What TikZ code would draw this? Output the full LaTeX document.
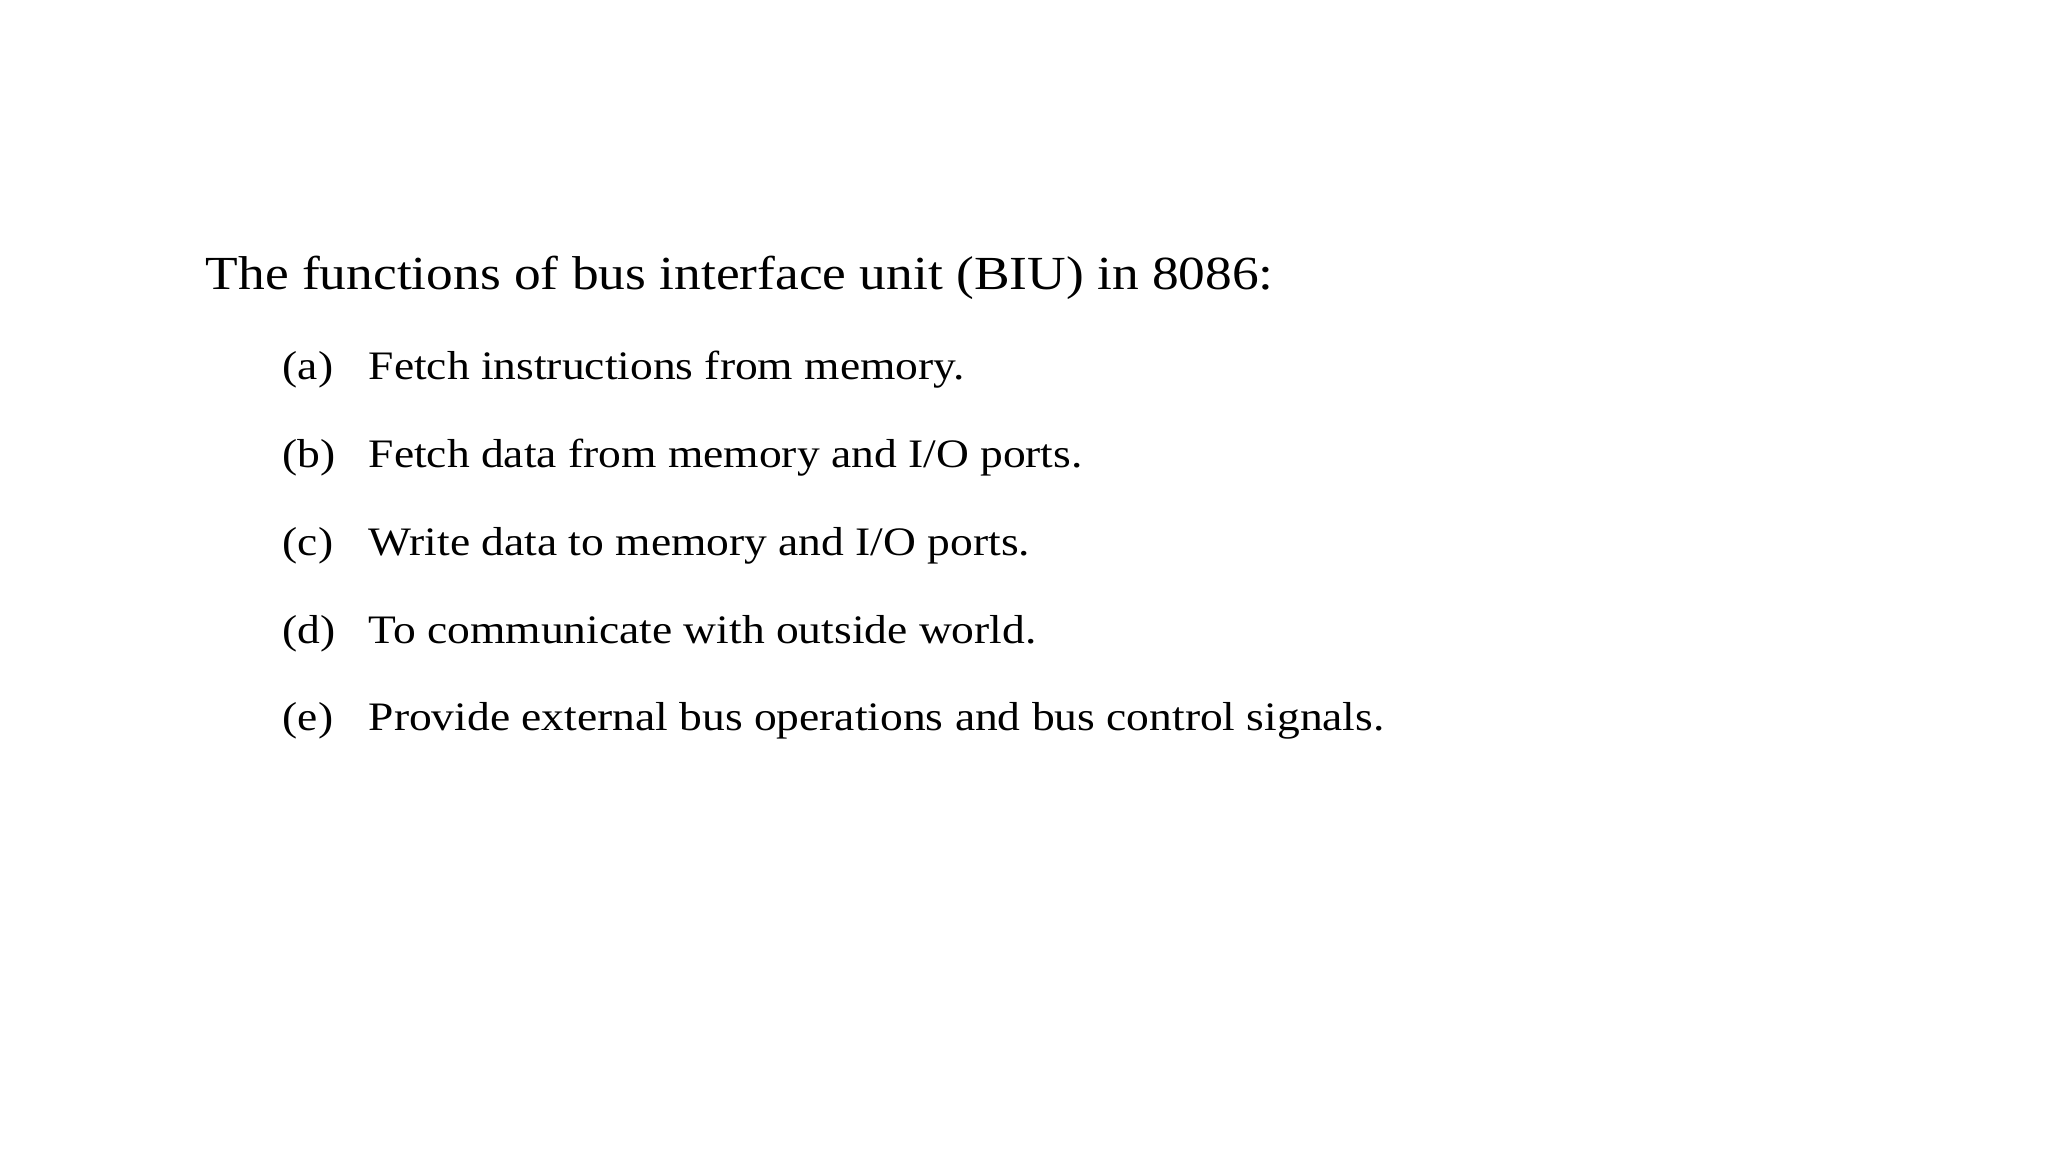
\documentclass[tikz,border=0pt]{standalone}
\usepackage{fontspec}
\setmainfont{Liberation Serif}[FakeStretch=1.125]
\begin{document}
\begin{tikzpicture}[x=0.01cm,y=-0.01cm,
  title/.style={anchor=base west,inner sep=0,font=\fontsize{13.5}{16}\selectfont},
  lab/.style={anchor=base west,inner sep=0,font=\fontsize{11.5}{14}\selectfont},
  item/.style={anchor=base west,inner sep=0,font=\fontsize{11.5}{14}\selectfont}]
\useasboundingbox (0,0) rectangle (2048,1152);
\node[title] (t) at (205,290) {The functions of bus interface unit (BIU) in 8086:};
\node[lab] (la) at (282,380) {(a)}; \node[item] (ia) at (368,380) {Fetch instructions from memory.};
\node[lab] (lb) at (282,468) {(b)}; \node[item] (ib) at (368,468) {Fetch data from memory and I/O ports.};
\node[lab] (lc) at (282,555) {(c)}; \node[item] (ic) at (368,555) {Write data to memory and I/O ports.};
\node[lab] (ld) at (282,643) {(d)}; \node[item] (id) at (368,643) {To communicate with outside world.};
\node[lab] (le) at (282,730) {(e)}; \node[item] (ie) at (368,730) {Provide external bus operations and bus control signals.};
\end{tikzpicture}
\end{document}
